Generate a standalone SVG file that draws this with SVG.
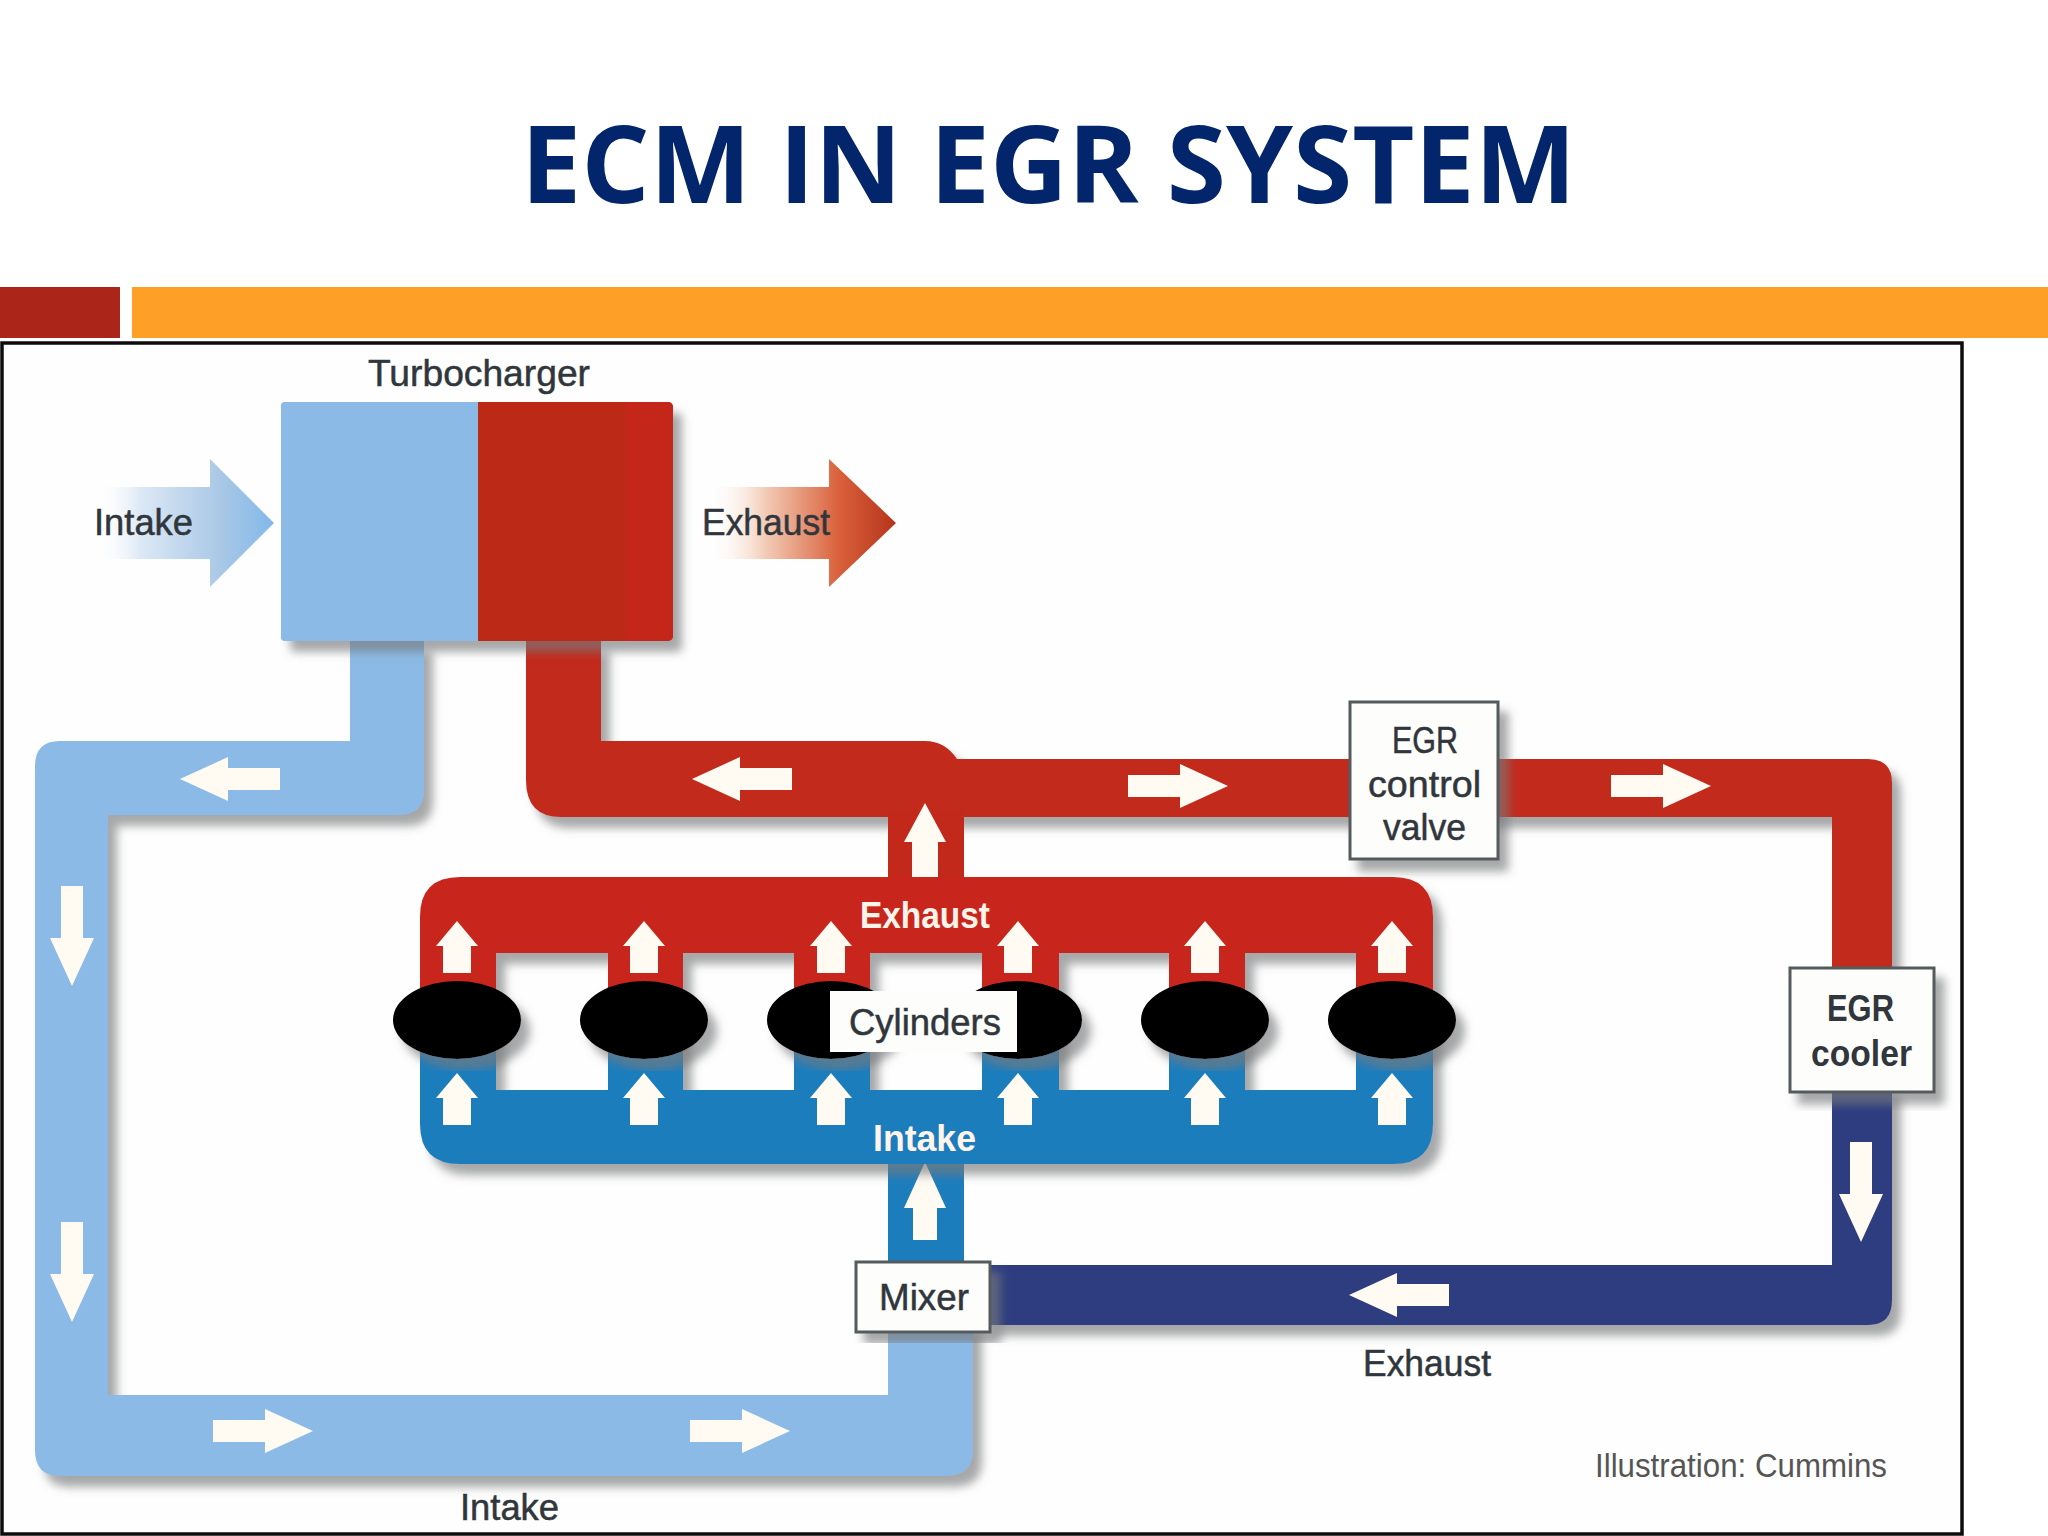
<svg xmlns="http://www.w3.org/2000/svg" width="2048" height="1536" viewBox="0 0 2048 1536">
<style>
text{font-family:"Liberation Sans",Arial,sans-serif}
.t{font-size:36px;fill:#30363c;stroke:#30363c;stroke-width:.5}
.b{font-weight:bold;stroke:none}
.w{font-size:36px;font-weight:bold;fill:#fff4ea}
.box{fill:#fdfdfb;stroke:#555a5c;stroke-width:3;filter:url(#sh)}
.ar{fill:#fffaf2}
.lb{fill:#8bbae6}.rd{fill:#c2291a}.nv{fill:#2f3d80}.mb{fill:#1c7dbd}
.s{filter:url(#sh)}
</style>
<defs>
<filter id="sh" x="-10%" y="-10%" width="125%" height="125%"><feDropShadow dx="9" dy="11" stdDeviation="5" flood-color="#77797c" flood-opacity=".65"/></filter>
<linearGradient id="gi" x1="0" x2="1" y1="0" y2="0"><stop offset="0" stop-color="#fff" stop-opacity="0"/><stop offset=".25" stop-color="#dce8f5"/><stop offset=".7" stop-color="#a9c8e6"/><stop offset="1" stop-color="#82b8ea"/></linearGradient>
<linearGradient id="ge" x1="0" x2="1" y1="0" y2="0"><stop offset="0" stop-color="#fff" stop-opacity="0"/><stop offset=".3" stop-color="#f3cdb8"/><stop offset=".7" stop-color="#d9603a"/><stop offset="1" stop-color="#b5341c"/></linearGradient>
<polygon id="h" class="ar" points="0,0 48,-22 48,-11 100,-11 100,11 48,11 48,22"/>
<polygon id="u" class="ar" points="0,0 21,25 14,25 14,52 -14,52 -14,25 -21,25"/>
</defs>
<rect width="2048" height="1536" fill="#fff"/>
<text x="521" y="203" font-size="108" font-weight="bold" fill="#03256c" textLength="1055" lengthAdjust="spacingAndGlyphs" style="font-family:'Open Sans','Liberation Sans',sans-serif">ECM IN EGR SYSTEM</text>
<rect x="0" y="287" width="120" height="51" fill="#ab2519"/>
<rect x="132" y="287" width="1916" height="51" fill="#fe9f28"/>
<rect x="2" y="343" width="1960" height="1191" fill="#fefefe" stroke="#0c0c0c" stroke-width="3.5"/>

<g id="connectors">
<path id="pipe-intake" class="lb s" d="M350 641V741H60Q35 741 35 766V1450Q35 1476 60 1476H945Q973 1476 973 1450V1320H888V1395H108V815H398Q424 815 424 790V641Z"/>
<path id="pipe-egr-hot" class="rd s" d="M601 641V741H925Q945 741 957 759H1868Q1892 759 1892 783V975H1832V817H561Q526 817 526 780V641Z"/>
<rect id="stub-exhaust" class="rd" x="888" y="810" width="76" height="75"/>
<rect id="stub-intake" class="mb" x="888" y="1155" width="76" height="115"/>
<path id="pipe-egr-cold" class="nv s" d="M1832 1085V1265H985V1325H1868Q1892 1325 1892 1300V1085Z"/>
<g id="pipe-arrows">
<use href="#h" transform="translate(180 779)"/>
<use href="#h" transform="translate(692 779)"/>
<use href="#h" transform="translate(1228 786) rotate(180)"/>
<use href="#h" transform="translate(1711 786) rotate(180)"/>
<use href="#h" transform="translate(72 986) rotate(-90)"/>
<use href="#h" transform="translate(72 1322) rotate(-90)"/>
<use href="#h" transform="translate(313 1431) rotate(180)"/>
<use href="#h" transform="translate(790 1431) rotate(180)"/>
<use href="#h" transform="translate(1861 1242) rotate(-90)"/>
<use href="#h" transform="translate(1349 1295)"/>
<polygon class="ar" points="925,803 946,842 938,842 938,881 912,881 912,842 904,842"/>
<polygon class="ar" points="925,1162 946,1208 937,1208 937,1240 913,1240 913,1208 904,1208"/>
</g>
</g>

<g id="turbocharger">
<rect class="s" x="281" y="402" width="392" height="239" rx="5" fill="#bf2a18"/>
<rect x="281" y="402" width="197" height="239" rx="4" class="lb"/>
<rect x="370" y="402" width="108" height="239" class="lb"/>
<rect x="478" y="402" width="150" height="239" fill="#bc2a17"/>
<rect x="625" y="402" width="48" height="239" rx="5" fill="#c4271a"/>
<text class="t" x="368" y="386" textLength="222" lengthAdjust="spacingAndGlyphs">Turbocharger</text>
</g>

<g id="intake-arrow">
<polygon fill="url(#gi)" points="96,487 210,487 210,459 274,523 210,587 210,559 96,559"/>
<text class="t" x="94" y="535" textLength="99" lengthAdjust="spacingAndGlyphs">Intake</text>
</g>
<g id="exhaust-arrow">
<polygon fill="url(#ge)" points="708,487 829,487 829,459 896,523 829,587 829,559 708,559"/>
<text class="t" x="702" y="535" textLength="128" lengthAdjust="spacingAndGlyphs">Exhaust</text>
</g>

<g id="exhaust-manifold">
<path class="s" fill="#c8281a" d="M420 1025V917Q420 877 460 877H1393Q1433 877 1433 917V1025H1356V953H1245V1025H1169V953H1059V1025H982V953H870V1025H794V953H683V1025H608V953H496V1025Z"/>
<text class="w" x="860" y="928" textLength="130" lengthAdjust="spacingAndGlyphs">Exhaust</text>
</g>
<g id="intake-manifold">
<path class="mb s" d="M420 1015H496V1090H608V1015H683V1090H794V1015H870V1090H982V1015H1059V1090H1169V1015H1245V1090H1356V1015H1433V1124Q1433 1164 1393 1164H460Q420 1164 420 1124Z"/>
<text class="w" x="873" y="1151" textLength="103" lengthAdjust="spacingAndGlyphs">Intake</text>
</g>
<g id="manifold-arrows">
<use href="#u" transform="translate(457 921)"/><use href="#u" transform="translate(644 921)"/><use href="#u" transform="translate(831 921)"/><use href="#u" transform="translate(1018 921)"/><use href="#u" transform="translate(1205 921)"/><use href="#u" transform="translate(1392 921)"/>
<use href="#u" transform="translate(457 1073)"/><use href="#u" transform="translate(644 1073)"/><use href="#u" transform="translate(831 1073)"/><use href="#u" transform="translate(1018 1073)"/><use href="#u" transform="translate(1205 1073)"/><use href="#u" transform="translate(1392 1073)"/>
</g>
<g id="cylinders" class="s">
<ellipse cx="457" cy="1020" rx="64" ry="39"/><ellipse cx="644" cy="1020" rx="64" ry="39"/><ellipse cx="831" cy="1020" rx="64" ry="39"/><ellipse cx="1018" cy="1020" rx="64" ry="39"/><ellipse cx="1205" cy="1020" rx="64" ry="39"/><ellipse cx="1392" cy="1020" rx="64" ry="39"/>
</g>
<g id="cylinders-label">
<rect x="830" y="991" width="187" height="61" fill="#fdfdfb"/>
<text class="t" x="849" y="1035" textLength="152" lengthAdjust="spacingAndGlyphs">Cylinders</text>
</g>
<g id="egr-valve">
<rect class="box" x="1350" y="702" width="148" height="157"/>
<text class="t" x="1392" y="753" textLength="66" lengthAdjust="spacingAndGlyphs">EGR</text>
<text class="t" x="1368" y="797" textLength="113" lengthAdjust="spacingAndGlyphs">control</text>
<text class="t" x="1383" y="840" textLength="83" lengthAdjust="spacingAndGlyphs">valve</text>
</g>
<g id="egr-cooler">
<rect class="box" x="1790" y="968" width="144" height="124"/>
<text class="t b" x="1827" y="1021" textLength="67" lengthAdjust="spacingAndGlyphs">EGR</text>
<text class="t b" x="1811" y="1066" textLength="101" lengthAdjust="spacingAndGlyphs">cooler</text>
</g>
<g id="mixer">
<rect class="box" x="856" y="1262" width="134" height="70"/>
<text class="t" x="879" y="1310" textLength="90" lengthAdjust="spacingAndGlyphs">Mixer</text>
</g>
<text class="t" x="1363" y="1376" textLength="128" lengthAdjust="spacingAndGlyphs">Exhaust</text>
<text class="t" x="460" y="1520" textLength="99" lengthAdjust="spacingAndGlyphs">Intake</text>
<text class="t" x="1595" y="1477" textLength="292" lengthAdjust="spacingAndGlyphs" style="font-size:34px;fill:#555;stroke:none">Illustration: Cummins</text>
</svg>
